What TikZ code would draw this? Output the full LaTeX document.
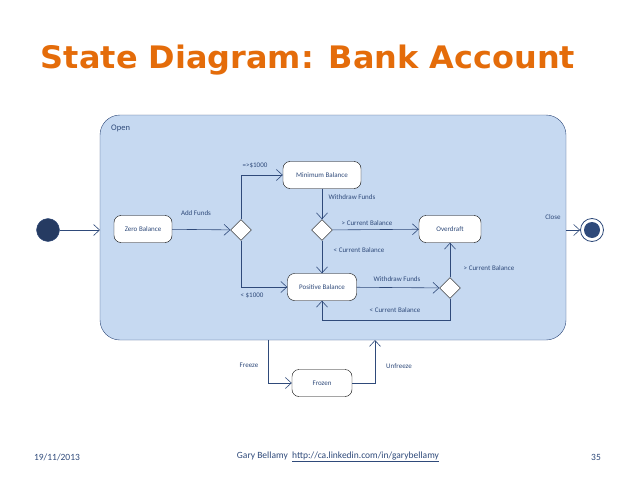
\documentclass[tikz,border=0pt]{standalone}
\usepackage{fontspec}
\setmainfont{Carlito}
\newfontfamily\titlefont{DejaVu Sans}
\usetikzlibrary{positioning, shapes.geometric, arrows.meta}
\definecolor{navy}{HTML}{2F4A7A}
\definecolor{boxfill}{HTML}{C6D9F1}
\definecolor{orangetitle}{HTML}{E46C0A}
\begin{document}
\begin{tikzpicture}[
    x=1pt, y=-1pt,
    state/.style = {draw=black, fill=white, rounded corners=7pt, minimum height=27pt, font=\fontsize{7}{8}\selectfont, text=navy},
    choice/.style = {draw=black, fill=white, diamond, minimum size=21pt, inner sep=0pt},
    lbl/.style = {font=\fontsize{7}{8}\selectfont, text=navy, inner sep=1pt},
    arr/.style = {->, draw=navy, semithick, >={Straight Barb[length=6pt,width=11pt]}}
]
\useasboundingbox (0,0) rectangle (638,479);

% Title
\node[text=orangetitle, font=\titlefont\fontsize{31}{34}\selectfont\bfseries] (title) at (308,60) {\scalebox{1.03}[1]{State Diagram: Bank Account}};

% Open superstate
\draw[draw=navy, fill=boxfill, rounded corners=20pt] (100,115) rectangle (566,340);
\node[lbl, anchor=west, font=\fontsize{8.5}{9}\selectfont] (open) at (110,128) {Open};
\coordinate (openW) at (100,230);
\coordinate (openE) at (566,230);
\coordinate (freezeOut) at (268,340);
\coordinate (unfreezeIn) at (375,340);

% States
\node[state, minimum width=58pt] (zero) at (143,229) {Zero Balance};
\node[choice] (d1) at (241,230) {};
\node[state, minimum width=78pt] (minbal) at (322,175) {Minimum Balance};
\node[choice] (d2) at (322,230) {};
\node[state, minimum width=62pt] (over) at (450,229) {Overdraft};
\node[state, minimum width=69pt] (pos) at (322,287) {Positive Balance};
\node[choice] (d3) at (450,288) {};
\node[state, minimum width=60pt] (frozen) at (322,383) {Frozen};

% Initial and final
\node[circle, draw=navy, fill=navy!80!black, minimum size=23pt, inner sep=0pt] (init) at (48,230) {};
\node[circle, draw=navy, thick, fill=white, minimum size=23pt, inner sep=0pt] (final) at (592,230) {};
\node[circle, fill=navy, minimum size=16pt, inner sep=0pt] (finalin) at (592,230) {};

% Transitions
\draw[arr] (init) -- (openW);
\draw[arr] (openE) -- (final);
\draw[arr] (zero) -- (d1);
\draw[arr] (d1.north) |- (minbal.west);
\draw[arr] (d1.south) |- (pos.west);
\draw[arr] (minbal) -- (d2);
\draw[arr] (d2) -- (over);
\draw[arr] (d2) -- (pos);
\draw[arr] (pos) -- (d3);
\draw[arr] (d3) -- (d3 |- over.south);
\draw[arr] (d3.south) -- ++(0,22) -| (pos.south);
\draw[arr] (freezeOut) |- (frozen.west);
\draw[arr] (frozen.east) -| (unfreezeIn);

% Labels
\node[lbl] (l1) at (255,166) {=>\$1000};
\node[lbl] (l2) at (196,213) {Add Funds};
\node[lbl] (l3) at (252,296) {< \$1000};
\node[lbl] (l4) at (352,197) {Withdraw Funds};
\node[lbl] (l5) at (367,223) {> Current Balance};
\node[lbl] (l6) at (359,250) {< Current Balance};
\node[lbl] (l7) at (397,279) {Withdraw Funds};
\node[lbl] (l8) at (489,268) {> Current Balance};
\node[lbl] (l9) at (395,310) {< Current Balance};
\node[lbl] (l10) at (553,217) {Close};
\node[lbl] (l11) at (249,365) {Freeze};
\node[lbl] (l12) at (399,366) {Unfreeze};

% Footer
\node[lbl, font=\fontsize{9.5}{11}\selectfont] (date) at (57,457) {19/11/2013};
\node[lbl, font=\fontsize{9.5}{11}\selectfont] (author) at (338,457) {Gary Bellamy \ \underline{http://ca.linkedin.com/in/garybellamy}};
\node[lbl, font=\fontsize{9.5}{11}\selectfont] (page) at (596,457) {35};
\end{tikzpicture}
\end{document}
